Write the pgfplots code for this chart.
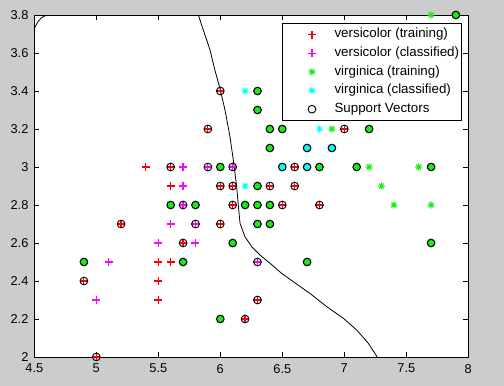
\documentclass[border=0pt]{standalone}
\usepackage{pgfplots}
\pgfplotsset{compat=1.18}
\usepackage{fontspec}
\setmainfont{Liberation Sans}
\definecolor{figbg}{RGB}{204,204,204}
\definecolor{mgreen}{RGB}{25,235,25}
\definecolor{mcyan}{RGB}{0,255,255}
\definecolor{mmag}{RGB}{255,0,255}
\definecolor{mred}{RGB}{255,0,0}
\pgfdeclareplotmark{mstar}{%
  \pgfpathmoveto{\pgfqpoint{-\pgfplotmarksize}{0pt}}\pgfpathlineto{\pgfqpoint{\pgfplotmarksize}{0pt}}%
  \pgfpathmoveto{\pgfqpoint{0pt}{-\pgfplotmarksize}}\pgfpathlineto{\pgfqpoint{0pt}{\pgfplotmarksize}}%
  \pgfpathmoveto{\pgfqpoint{-.707\pgfplotmarksize}{-.707\pgfplotmarksize}}\pgfpathlineto{\pgfqpoint{.707\pgfplotmarksize}{.707\pgfplotmarksize}}%
  \pgfpathmoveto{\pgfqpoint{-.707\pgfplotmarksize}{.707\pgfplotmarksize}}\pgfpathlineto{\pgfqpoint{.707\pgfplotmarksize}{-.707\pgfplotmarksize}}%
  \pgfusepathqstroke}
\begin{document}
\begin{tikzpicture}[x=1pt,y=1pt]
\fill[figbg] (-25.725,-21.75) rectangle (352.275,267.75);
\begin{axis}[
  at={(0,0)}, anchor=south west, scale only axis,
  width=325.5pt, height=256.5pt,
  xmin=4.5, xmax=8, ymin=2, ymax=3.8,
  axis background/.style={fill=white},
  axis line style={line width=0.75pt},
  xtick={4.5,5,5.5,6,6.5,7,7.5,8},
  xticklabels={4.5,5,5.5,6,6.5,7,7.5,8},
  ytick={2,2.2,2.4,2.6,2.8,3,3.2,3.4,3.6,3.8},
  yticklabels={2,2.2,2.4,2.6,2.8,3,3.2,3.4,3.6,3.8},
  tick align=inside, major tick length=3.75pt,
  tick style={line width=0.75pt, black},
  tick label style={font=\fontsize{9.6}{11}\selectfont},
  xticklabel style={yshift=-1.8pt},
  yticklabel style={xshift=-0.9pt},
  legend style={at={(0.986,0.9775)}, anchor=north east, draw=black, line width=0.75pt,
    fill=white, inner xsep=0pt, inner ysep=1.5pt, row sep=0pt,
    font=\fontsize{10}{12}\selectfont,
    nodes={inner ysep=2.5pt, text height=7pt, text depth=2pt},
    cells={anchor=west}},
  legend image code/.code={\path (-21.4pt,0pt) (14.6pt,0pt); \draw[#1,mark repeat=1] plot coordinates {(0pt,0pt)};},
]
% filled look of circled virginica points
\addplot[only marks, mark=*, mark size=2.6pt, mark options={fill=mgreen, draw=none}, forget plot] coordinates {
(7.9,3.8)(6.3,3.4)(6.3,3.3)(6.4,3.2)(6.5,3.2)(7.2,3.2)(6.4,3.1)(6.0,3.0)(6.8,3.0)(7.1,3.0)(7.7,3.0)(6.3,2.9)(5.6,2.8)(5.8,2.8)(6.2,2.8)(6.3,2.8)(6.4,2.8)(6.3,2.7)(6.4,2.7)(6.1,2.6)(7.7,2.6)(4.9,2.5)(5.7,2.5)(6.7,2.5)(6.0,2.2)};
\addplot[only marks, mark=*, mark size=2.6pt, mark options={fill=mcyan, draw=none}, forget plot] coordinates {
(6.7,3.1)(6.9,3.1)(6.5,3.0)(6.7,3.0)};
% versicolor (training)
\addplot[only marks, mark=+, mark size=3pt, draw=mred, color=mred, mark options={draw=mred, line width=0.9pt}] coordinates {
(5.4,3.0)(5.6,2.9)(5.5,2.5)(5.6,2.5)(5.5,2.4)(5.5,2.3)(6.0,3.4)(5.9,3.2)(7.0,3.2)(5.6,3.0)(6.6,3.0)(6.0,2.9)(6.1,2.9)(6.4,2.9)(6.6,2.9)(6.1,2.8)(6.5,2.8)(6.8,2.8)(5.2,2.7)(6.0,2.7)(5.7,2.6)(4.9,2.4)(6.3,2.3)(6.2,2.2)(5.0,2.0)};
\addlegendentry{versicolor (training)}
% versicolor (classified)
\addplot[only marks, mark=+, mark size=3pt, draw=mmag, color=mmag, mark options={draw=mmag, line width=0.9pt}] coordinates {
(5.7,3.0)(5.7,2.9)(5.6,2.7)(5.5,2.6)(5.8,2.6)(5.1,2.5)(5.0,2.3)(5.9,3.0)(6.1,3.0)(5.7,2.8)(5.8,2.7)(6.3,2.5)};
\addlegendentry{versicolor (classified)}
% virginica (training)
\addplot[only marks, mark=mstar, mark size=2.7pt, draw=mgreen, color=mgreen, mark options={draw=mgreen, line width=0.75pt}] coordinates {
(7.7,3.8)(6.9,3.2)(7.2,3.0)(7.6,3.0)(7.3,2.9)(7.4,2.8)(7.7,2.8)
(7.9,3.8)(6.3,3.4)(6.3,3.3)(6.4,3.2)(6.5,3.2)(7.2,3.2)(6.4,3.1)(6.0,3.0)(6.8,3.0)(7.1,3.0)(7.7,3.0)(6.3,2.9)(5.6,2.8)(5.8,2.8)(6.2,2.8)(6.3,2.8)(6.4,2.8)(6.3,2.7)(6.4,2.7)(6.1,2.6)(7.7,2.6)(4.9,2.5)(5.7,2.5)(6.7,2.5)(6.0,2.2)};
\addlegendentry{virginica (training)}
% virginica (classified)
\addplot[only marks, mark=mstar, mark size=2.7pt, draw=mcyan, color=mcyan, mark options={draw=mcyan, line width=0.75pt}] coordinates {
(6.2,3.4)(6.8,3.2)(6.2,2.9)(6.7,3.1)(6.9,3.1)(6.5,3.0)(6.7,3.0)};
\addlegendentry{virginica (classified)}
% support vectors
\addplot[only marks, mark=o, mark size=2.9pt, black, mark options={line width=0.7pt}] coordinates {
(6.0,3.4)(5.9,3.2)(7.0,3.2)(5.6,3.0)(6.6,3.0)(6.0,2.9)(6.1,2.9)(6.4,2.9)(6.6,2.9)(6.1,2.8)(6.5,2.8)(6.8,2.8)(5.2,2.7)(6.0,2.7)(5.7,2.6)(4.9,2.4)(6.3,2.3)(6.2,2.2)(5.0,2.0)
(5.9,3.0)(6.1,3.0)(5.7,2.8)(5.8,2.7)(6.3,2.5)
(7.9,3.8)(6.3,3.4)(6.3,3.3)(6.4,3.2)(6.5,3.2)(7.2,3.2)(6.4,3.1)(6.0,3.0)(6.8,3.0)(7.1,3.0)(7.7,3.0)(6.3,2.9)(5.6,2.8)(5.8,2.8)(6.2,2.8)(6.3,2.8)(6.4,2.8)(6.3,2.7)(6.4,2.7)(6.1,2.6)(7.7,2.6)(4.9,2.5)(5.7,2.5)(6.7,2.5)(6.0,2.2)
(6.7,3.1)(6.9,3.1)(6.5,3.0)(6.7,3.0)};
\addlegendentry{Support Vectors}
% decision boundary
\addplot[black, line width=0.6pt, no marks, forget plot] coordinates {
(5.823,3.8)(5.863,3.721)(5.917,3.616)(5.956,3.511)(5.997,3.414)(6.038,3.3)(6.078,3.159)(6.105,3.037)(6.132,2.896)(6.145,2.8)(6.159,2.704)(6.199,2.633)(6.253,2.581)(6.32,2.537)(6.401,2.493)(6.495,2.44)(6.589,2.396)(6.722,2.335)(6.858,2.265)(6.992,2.204)(7.1,2.142)(7.194,2.072)(7.256,2.01)(7.27,1.99)};
\addplot[black, line width=0.6pt, no marks, forget plot] coordinates {
(4.49,3.72)(4.5,3.73)(4.53,3.765)(4.56,3.787)(4.6,3.8)(4.62,3.81)};
\end{axis}
\end{tikzpicture}
\end{document}
